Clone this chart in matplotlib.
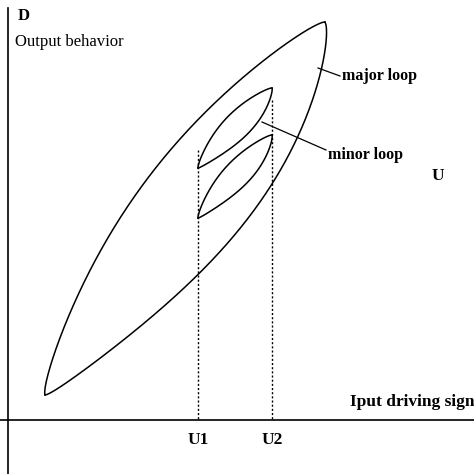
import numpy as np
import matplotlib.pyplot as plt

# loops given in image pixel coords: start tip, end tip, bulge up-left, bulge down-right
loop_starts = [(45, 395), (198, 168), (198, 218)]
loop_ends = [(325, 22), (272, 88), (272, 135)]
loop_bulge_upper = [48, 13, 13]
loop_bulge_lower = [55, 13, 13]
u_marks = [198, 272]
u_labels = ["U1", "U2"]

fig = plt.figure(figsize=(4.74, 4.74), dpi=100)
ax = fig.add_axes([0, 0, 1, 1])
ax.set_xlim(0, 474)
ax.set_ylim(474, 0)
ax.axis("off")

t = np.linspace(0, 1, 300)
for (x0, y0), (x1, y1), bu, bl in zip(loop_starts, loop_ends, loop_bulge_upper, loop_bulge_lower):
    dx, dy = x1 - x0, y1 - y0
    L = np.hypot(dx, dy)
    nx, ny = dy / L, -dx / L
    if nx > 0:
        nx, ny = -nx, -ny  # point up-left
    cx = x0 + dx * t
    cy = y0 + dy * t
    up = bu * np.sin(np.pi * t) ** 0.75
    lo = bl * np.sin(np.pi * t) ** 0.75 * (0.7 + 0.6 * t)
    ax.plot(cx + nx * up, cy + ny * up, color="black", lw=1.1)
    ax.plot(cx - nx * lo, cy - ny * lo, color="black", lw=1.1)

ax.plot([8, 8], [8, 474], color="black", lw=1.2)
ax.plot([0, 474], [420, 420], color="black", lw=1.2)

for x, lab in zip(u_marks, u_labels):
    ax.plot([x, x], [150 if x < 250 else 100, 420], color="black", lw=1, ls=(0, (1.5, 1.5)))
    ax.text(x, 440, lab, ha="center", va="center", fontsize=12.5, fontweight="bold", family="Liberation Serif")

ax.text(18, 16, "D", fontsize=12, fontweight="bold", family="Liberation Serif", va="center")
ax.text(15, 42, "Output behavior", fontsize=12, family="Liberation Serif", va="center")
ax.text(432, 176, "U", fontsize=12.5, fontweight="bold", family="Liberation Serif", va="center")
ax.text(350, 402, "Iput driving signal", fontsize=12.5, fontweight="bold", family="Liberation Serif", va="center")
ax.text(342, 76, "major loop", fontsize=11.5, fontweight="bold", family="Liberation Serif", va="center")
ax.text(328, 155, "minor loop", fontsize=11.5, fontweight="bold", family="Liberation Serif", va="center")
ax.plot([318, 340], [68, 76], color="black", lw=0.9)
ax.plot([262, 326], [122, 150], color="black", lw=0.9)

fig.savefig("out.png", dpi=100)
